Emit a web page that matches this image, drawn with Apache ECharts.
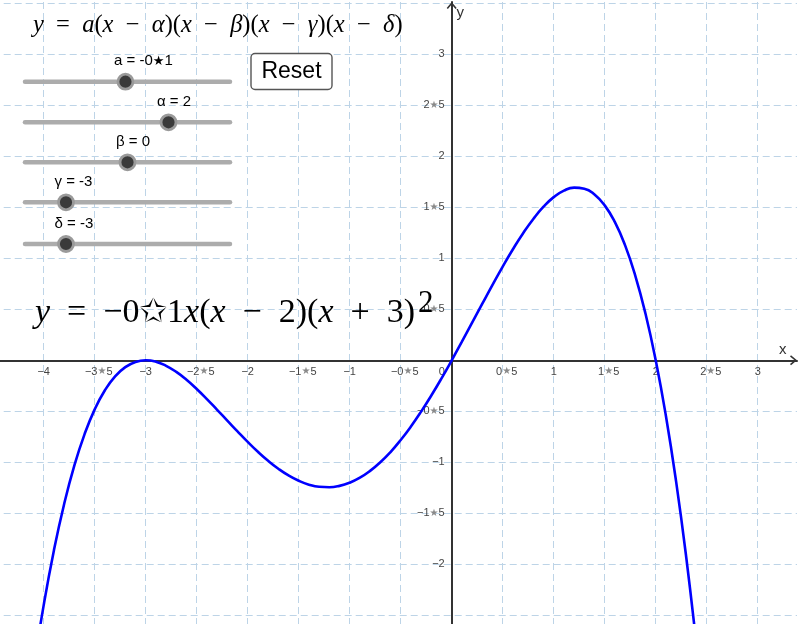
<!DOCTYPE html>
<html><head><meta charset="utf-8">
<script src="https://cdn.jsdelivr.net/npm/echarts@6/dist/echarts.min.js"></script>
<style>html,body{margin:0;padding:0;background:#fff}#c{width:800px;height:624px}</style>
</head><body><div id="c"></div>
<script>
// curve y = -0.1 x (x-2)(x+3)^2
const curveX = [-4.1,-4.0,-3.9,-3.8,-3.7,-3.6,-3.5,-3.4,-3.3,-3.2,-3.1,-3.0,-2.9,-2.8,-2.7,-2.6,-2.5,-2.4,-2.3,-2.2,-2.1,-2.0,-1.9,-1.8,-1.7,-1.6,-1.5,-1.4,-1.3,-1.2,-1.1,-1.0,-0.9,-0.8,-0.7,-0.6,-0.5,-0.4,-0.3,-0.2,-0.1,0,0.1,0.2,0.3,0.4,0.5,0.6,0.7,0.8,0.9,1.0,1.1,1.2,1.3,1.4,1.5,1.6,1.7,1.8,1.9,2.0,2.1,2.2,2.3,2.4];
const curveY = [-3.026,-2.400,-1.864,-1.411,-1.033,-0.726,-0.481,-0.294,-0.157,-0.067,-0.016,0,-0.014,-0.054,-0.114,-0.191,-0.281,-0.380,-0.485,-0.591,-0.697,-0.800,-0.897,-0.985,-1.063,-1.129,-1.181,-1.219,-1.240,-1.244,-1.231,-1.200,-1.151,-1.084,-1.000,-0.899,-0.781,-0.649,-0.503,-0.345,-0.177,0,0.183,0.369,0.555,0.740,0.919,1.089,1.246,1.386,1.506,1.600,1.664,1.693,1.683,1.626,1.519,1.354,1.127,0.829,0.456,0,-0.546,-1.190,-1.938,-2.799];
const xTickLabels = [-4,-3.5,-3,-2.5,-2,-1.5,-1,-0.5,0,0.5,1,1.5,2,2.5,3];
const yTickLabels = [-2,-1.5,-1,-0.5,0.5,1,1.5,2,2.5,3];
const sliderNames = ['a','α','β','γ','δ'];
const sliderValues = [-0.1,2,0,-3,-3];
const sliderRange = [-5,5];

const chart = echarts.init(document.getElementById('c'));

function fmt(v, isX) {
  const list = isX ? xTickLabels : yTickLabels;
  const hit = list.find(t => Math.abs(t - v) < 1e-6);
  if (hit === undefined) return '';
  if (isX && hit === 0) return '{z|0}';
  const s = String(Math.abs(hit)).split('.');
  const head = (hit < 0 ? '−' : '') + s[0];
  if (s.length > 1) {
    return (isX ? '{p|' : '{d|') + head + '}{s|★}{d|' + s[1] + '}';
  }
  return '{d|' + head + '}';
}
const labRich = {
  d: {fontSize: 11, color: '#444', fontFamily: 'Liberation Sans'},
  p: {fontSize: 11, color: '#444', fontFamily: 'Liberation Sans', padding: [0, 0, 0, 8]},
  s: {fontSize: 10, color: '#8a8a8a', fontFamily: 'DejaVu Sans'},
  z: {fontSize: 11, color: '#444', fontFamily: 'Liberation Sans', padding: [0, 20, 0, 0]}
};
const gridLine = {show: true, showMaxLine: false, showMinLine: false, lineStyle: {color: '#bdd4e7', type: [7, 4], width: 1}};
const arrowPath = 'path://M5,0 L10,6 L8.8,7 L5,2.4 L1.2,7 L0,6 Z';
const E = '\u2002';

const graphics = [];
// title formula
const it = {fontFamily: 'Liberation Serif', fontStyle: 'italic', fontSize: 24.5, color: '#222'};
const nt = {fontFamily: 'Liberation Serif', fontSize: 24.5, color: '#222'};
graphics.push({
  type: 'text', x: 33, y: 26, z: 100,
  style: {
    text: '{i|y}{n|' + E + '=' + E + '}{i|a}{n|(}{i|x}{n|' + E + '−' + E + '}{i|α}{n|)(}{i|x}{n|' + E + '−' + E + '}{i|β}{n|)(}{i|x}{n|' + E + '−' + E + '}{i|γ}{n|)(}{i|x}{n|' + E + '−' + E + '}{i|δ}{n|)}',
    rich: {i: it, n: nt}, verticalAlign: 'middle', textAlign: 'left'
  }
});
// sliders
const sx0 = 25, sx1 = 230, sy = [81.7, 122.3, 162.3, 202.3, 244];
sliderNames.forEach((nm, k) => {
  const v = sliderValues[k];
  const kx = sx0 + (v - sliderRange[0]) / (sliderRange[1] - sliderRange[0]) * (sx1 - sx0);
  graphics.push({type: 'line', z: 100, shape: {x1: sx0, y1: sy[k], x2: sx1, y2: sy[k]},
    style: {stroke: '#acacac', lineWidth: 4.5, lineCap: 'round'}});
  graphics.push({type: 'circle', z: 101, shape: {cx: kx, cy: sy[k], r: 7.5},
    style: {fill: '#3a3a3a', stroke: '#9a9a9a', lineWidth: 2.8}});
  const s = String(v).split('.');
  const txt = s.length > 1 ? '{t|' + nm + ' = ' + s[0] + '}{s|★}{t|' + s[1] + '}' : '{t|' + nm + ' = ' + v + '}';
  graphics.push({type: 'text', z: 101, x: kx - 11.5, y: sy[k] - 20.5,
    style: {text: txt, verticalAlign: 'middle', textAlign: 'left',
      rich: {t: {fontSize: 15, fontFamily: 'Liberation Sans', color: '#333'}, s: {fontSize: 13, fontFamily: 'DejaVu Sans', color: '#777'}}}});
});
// reset button
graphics.push({type: 'rect', z: 100, shape: {x: 251, y: 53.5, width: 81, height: 36, r: 4},
  style: {fill: '#fff', stroke: '#555', lineWidth: 1.4}});
graphics.push({type: 'text', z: 101, x: 291.5, y: 71.5,
  style: {text: 'Reset', fontSize: 23, fontFamily: 'Liberation Sans', fill: '#000', textAlign: 'center', verticalAlign: 'middle'}});
// blue formula
const bi = {fontFamily: 'Liberation Serif', fontStyle: 'italic', fontSize: 34, color: '#0000ff', lineHeight: 50};
const bn = {fontFamily: 'Liberation Serif', fontSize: 34, color: '#0000ff', lineHeight: 50};
graphics.push({
  type: 'text', x: 35, y: 313, z: 100,
  style: {
    text: '{i|y}{n|' + E + '=' + E + '−0}{s|✩}{n|1}{i|x}{n|(}{i|x}{n|' + E + '−' + E + '2)(}{i|x}{n|' + E + '+' + E + '3)}{sup|2}',
    rich: {i: bi, n: bn,
      s: {fontFamily: 'DejaVu Sans', fontSize: 33, color: '#0000ff', lineHeight: 50},
      sup: {fontFamily: 'Liberation Serif', fontSize: 31, color: '#0000ff', lineHeight: 30, verticalAlign: 'top', padding: [0, 0, 0, 3]}},
    verticalAlign: 'middle', textAlign: 'left'
  }
});

chart.setOption({
  animation: false,
  grid: {left: -7.3, right: 3, top: 2, bottom: -42.3, containLabel: false, outerBoundsMode: 'none'},
  xAxis: {
    type: 'value', min: -4.5, max: 3.385, interval: 0.5, offset: -306,
    name: 'x', nameLocation: 'end', nameGap: -18,
    nameTextStyle: {fontSize: 15, color: '#333', fontFamily: 'Liberation Sans', verticalAlign: 'bottom', padding: [0, 0, 3, 0]},
    axisLine: {onZero: false, lineStyle: {color: '#333', width: 2}, symbol: ['none', arrowPath], symbolSize: [11, 7], symbolOffset: [0, -3.5]},
    axisTick: {show: false},
    axisLabel: {margin: 6, formatter: v => fmt(v, true), rich: labRich, showMinLabel: true, showMaxLabel: true},
    splitLine: gridLine
  },
  yAxis: {
    type: 'value', min: -3, max: 3.513, interval: 0.5, offset: -459,
    name: 'y', nameLocation: 'end', nameGap: -18,
    nameTextStyle: {fontSize: 15, color: '#333', fontFamily: 'Liberation Sans', padding: [0, 0, 0, 17]},
    axisLine: {onZero: false, lineStyle: {color: '#333', width: 2}, symbol: ['none', arrowPath], symbolSize: [11, 7], symbolOffset: [0, -3.5]},
    axisTick: {show: false},
    axisLabel: {margin: 7, formatter: v => fmt(v, false), rich: labRich},
    splitLine: gridLine
  },
  series: [{
    type: 'line', data: curveX.map((x, i) => [x, curveY[i]]),
    showSymbol: false, smooth: true, clip: true,
    lineStyle: {color: '#0000ff', width: 2.6}, z: 3
  }],
  graphic: graphics
});
</script></body></html>
